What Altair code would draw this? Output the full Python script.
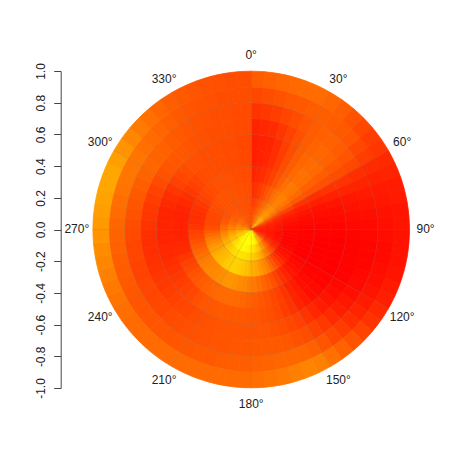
import math
import altair as alt
import pandas as pd

radius_edges = [0.0,0.05,0.1,0.15,0.2,0.3,0.4,0.5,0.6,0.7,0.8,0.9,1.0]
angle_step = 5
# Colour level in percent per ring, one value per 5 degree sector, clockwise from north (0 red, 100 yellow)
ring_a = [33,36,38,42,46,52,60,68,72,72,65,52, 38,28,22,18,16,15,15,15,15,16,18,22, 28,36,48,58,66,74,82,90,96,100,100,100,
          100,100,100,100,100,100,100,100,100,98,95,92, 88,85,82,78,75,70,66,62,58,55,52,50, 48,46,44,42,40,38,37,36,35,34,33,33]
ring_b = [30,33,36,40,44,50,56,62,66,66,60,50, 36,26,20,16,14,13,12,12,12,14,16,20, 25,32,42,52,60,68,76,84,90,95,98,100,
          100,100,100,100,100,100,100,98,96,93,90,87, 83,80,76,72,68,64,60,56,53,50,47,45, 43,42,40,38,37,36,35,34,33,32,32,31]
ring_c = [26,29,32,36,40,45,50,55,58,58,53,45, 32,22,16,13,11,10,9,8,8,9,11,14, 18,24,32,40,48,56,64,72,78,83,87,90,
          92,94,96,97,98,98,97,95,92,88,85,81, 77,73,69,65,61,57,53,49,45,42,40,38, 37,36,35,34,33,33,32,32,31,31,30,30]
ring_d = [22,25,28,32,36,41,46,50,54,54,49,41, 28,18,13,10,8,7,6,5,5,6,7,10, 13,18,25,32,40,48,55,62,68,73,77,80,
          83,85,87,88,89,89,88,86,83,80,77,74, 70,66,61,56,52,47,43,40,37,35,33,32, 32,32,32,32,32,32,32,32,31,31,30,30]
ring_e = [18,20,23,27,32,37,42,46,50,50,45,38, 25,15,10,7,5,3,2,2,2,2,2,3, 5,8,12,18,25,33,42,50,55,60,65,68,
          72,75,78,80,82,82,80,78,75,72,70,66, 62,58,53,48,42,36,31,28,28,28,28,29, 30,31,32,32,32,32,32,32,31,31,30,30]
ring_f = [14,16,18,22,26,32,38,43,47,46,41,34, 20,12,8,5,3,2,1,1,0,0,0,0, 2,4,6,9,14,19,25,31,36,40,44,47,
          50,53,55,57,58,58,56,54,53,52,50,48, 44,40,36,32,28,25,21,19,18,19,20,22, 25,27,29,30,31,31,31,31,30,30,29,29]
ring_g = [12,13,15,18,24,30,36,41,44,43,38,32, 18,12,7,5,3,2,1,0,0,0,0,0, 1,2,4,6,10,14,20,25,28,31,34,36,
          38,40,41,42,42,41,40,38,36,34,32,28, 25,21,17,15,14,13,13,13,13,14,16,19, 22,25,27,29,30,30,30,30,29,29,28,28]
ring_h = [12,13,14,18,24,30,36,40,42,41,37,31, 20,13,8,5,4,2,1,0,0,0,0,0, 1,2,4,6,10,14,20,24,28,30,32,33,
          34,35,35,35,35,34,33,31,28,26,24,22, 20,18,16,15,14,14,14,14,14,16,18,21, 25,28,30,31,31,30,30,30,29,29,28,28]
ring_i = [14,15,17,21,26,31,36,39,40,39,35,30, 20,14,9,7,5,3,2,1,1,1,1,1, 3,5,8,11,15,20,25,28,30,32,33,33,
          33,33,33,33,32,31,30,28,27,26,24,22, 21,20,19,18,18,19,20,21,22,24,26,29, 32,33,34,34,33,32,31,30,30,30,29,29]
ring_j = [20,22,24,27,30,33,36,38,38,36,33,28, 18,14,10,8,6,4,3,2,2,2,3,4, 6,9,12,17,22,26,30,32,34,35,35,35,
          34,34,33,33,32,32,31,30,29,28,28,27, 27,26,26,27,27,29,30,32,33,35,37,39, 40,39,38,36,35,33,32,31,30,30,29,29]
ring_k = [28,30,32,34,35,36,37,36,35,33,28,24, 17,13,10,9,7,6,5,4,4,5,6,8, 10,14,18,23,28,33,38,40,40,40,39,38,
          37,37,36,35,35,34,34,33,33,33,33,33, 34,35,36,37,38,39,40,42,43,45,46,46, 46,44,42,40,37,35,33,32,31,30,30,30]
ring_l = [36,38,40,41,42,42,40,37,32,28,24,21, 16,14,11,10,8,8,7,7,7,8,10,12, 16,20,26,32,38,44,50,52,50,47,45,43,
          42,42,42,42,42,42,42,42,42,42,42,43, 45,47,50,53,55,58,60,62,64,65,65,62, 58,53,48,44,40,37,35,33,32,31,30,30]
rings = [ring_a,ring_b,ring_c,ring_d,ring_e,ring_f,ring_g,ring_h,ring_i,ring_j,ring_k,ring_l]

grid_radii = [0.2,0.4,0.6,0.8]
spoke_angles = list(range(0,360,30))
y_ticks = [-1.0,-0.8,-0.6,-0.4,-0.2,0.0,0.2,0.4,0.6,0.8,1.0]
label_radius = 1.1

cells = pd.DataFrame([
    {"t0":j*angle_step,"t1":(j+1)*angle_step,"r0":radius_edges[i],"r1":radius_edges[i+1],"v":v}
    for i,ring in enumerate(rings) for j,v in enumerate(ring)
])
spokes = pd.DataFrame([
    {"x":0.0,"y":0.0,"x2":math.sin(math.radians(a)),"y2":math.cos(math.radians(a))} for a in spoke_angles
])
labels = pd.DataFrame([
    {"x":label_radius*math.sin(math.radians(a)),"y":label_radius*math.cos(math.radians(a)),"t":f"{a}°"} for a in spoke_angles
])
circles = pd.DataFrame({"r":grid_radii,"t0":[0]*len(grid_radii),"t1":[360]*len(grid_radii)})

theta_scale = alt.Scale(domain=[0,360],range=[0,2*math.pi])
rad_scale = alt.Scale(domain=[0,1],range=[0,158.3])
pos = alt.Scale(domain=[-1,1])
col = alt.Scale(domain=[0,100],range=["#ff0000","#ffff00"],interpolate="rgb")
y_axis = alt.Axis(
    values=y_ticks,offset=32,title=None,grid=False,
    labelExpr="replace(format(datum.value,'.1f'),'−','-')",
    labelAngle=270,labelAlign="center",labelBaseline="bottom",labelPadding=6,
    labelFont="Liberation Sans",labelFontSize=12,labelColor="#222222",
    domainColor="#444444",tickColor="#444444",tickSize=7,labelOverlap=False,labelFlush=False)

heat = alt.Chart(cells).mark_arc(strokeWidth=0.8).encode(
    theta=alt.Theta("t0:Q",scale=theta_scale),
    theta2="t1:Q",
    radius=alt.Radius("r1:Q",scale=rad_scale),
    radius2="r0:Q",
    color=alt.Color("v:Q",scale=col,legend=None),
    stroke=alt.Stroke("v:Q",scale=col,legend=None),
)
rings_layer = alt.Chart(circles).mark_arc(fillOpacity=0,stroke="#777777",strokeOpacity=0.22,strokeWidth=1).encode(
    theta=alt.Theta("t0:Q",scale=theta_scale),
    theta2="t1:Q",
    radius=alt.Radius("r:Q",scale=rad_scale),
)
spoke_layer = alt.Chart(spokes).mark_rule(color="#777777",opacity=0.22,strokeWidth=1).encode(
    x=alt.X("x:Q",scale=pos,axis=None),
    y=alt.Y("y:Q",scale=pos,axis=y_axis),
    x2="x2:Q",y2="y2:Q",
)
text = alt.Chart(labels).mark_text(font="Liberation Sans",fontSize=12,color="#222222").encode(
    x=alt.X("x:Q",scale=pos,axis=None),
    y=alt.Y("y:Q",scale=pos,axis=y_axis),
    text="t:N",
)
chart = alt.layer(heat,rings_layer,spoke_layer,text).properties(
    width=317,height=317,
    padding={"left":84.7,"top":63,"right":50,"bottom":60},
    autosize=alt.AutoSizeParams(type="none"),
).configure_view(stroke=None)
chart.save("out.html",embed_options={"renderer":"svg","actions":False})
